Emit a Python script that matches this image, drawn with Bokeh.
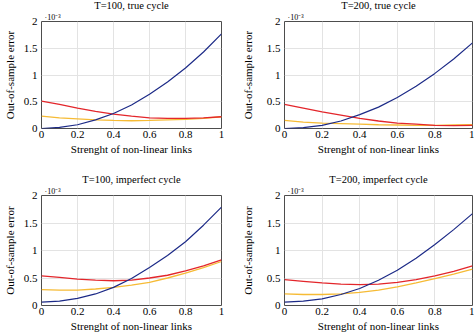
from bokeh.plotting import figure
from bokeh.layouts import column, row
from bokeh.models import Range1d, FixedTicker, CustomJSTickFormatter, Title
from bokeh.embed import file_html
from bokeh.resources import INLINE

x = [0.0, 0.1, 0.2, 0.3, 0.4, 0.5, 0.6, 0.7, 0.8, 0.9, 1.0]

# values in units of 1e-3
tl_blue = [0.0, 0.02, 0.07, 0.16, 0.28, 0.44, 0.64, 0.87, 1.13, 1.43, 1.77]
tl_red = [0.51, 0.45, 0.38, 0.32, 0.27, 0.23, 0.20, 0.19, 0.19, 0.20, 0.22]
tl_yellow = [0.23, 0.20, 0.18, 0.16, 0.15, 0.145, 0.15, 0.16, 0.17, 0.19, 0.22]

tr_blue = [0.0, 0.015, 0.06, 0.14, 0.26, 0.40, 0.58, 0.79, 1.03, 1.30, 1.60]
tr_red = [0.45, 0.38, 0.31, 0.25, 0.19, 0.14, 0.10, 0.08, 0.06, 0.055, 0.06]
tr_yellow = [0.15, 0.12, 0.10, 0.09, 0.08, 0.07, 0.065, 0.06, 0.06, 0.065, 0.07]

bl_blue = [0.06, 0.08, 0.13, 0.21, 0.33, 0.49, 0.69, 0.91, 1.16, 1.46, 1.79]
bl_red = [0.54, 0.51, 0.48, 0.46, 0.45, 0.46, 0.50, 0.55, 0.63, 0.72, 0.83]
bl_yellow = [0.29, 0.28, 0.28, 0.30, 0.33, 0.37, 0.42, 0.50, 0.59, 0.69, 0.80]

br_blue = [0.06, 0.08, 0.12, 0.20, 0.31, 0.46, 0.64, 0.86, 1.11, 1.38, 1.67]
br_red = [0.47, 0.44, 0.41, 0.39, 0.38, 0.39, 0.42, 0.47, 0.54, 0.62, 0.72]
br_yellow = [0.21, 0.20, 0.20, 0.21, 0.24, 0.28, 0.34, 0.41, 0.49, 0.57, 0.66]

titles = ["T=100, true cycle", "T=200, true cycle",
          "T=100, imperfect cycle", "T=200, imperfect cycle"]
x_ticks = [0, 0.2, 0.4, 0.6, 0.8, 1.0]
y_ticks = [0, 0.5, 1.0, 1.5, 2.0]
xlabel = "Strenght of non-linear links"
ylabel = "Out-of-sample error"
scale_label = "\u00b710\u207b\u00b3"

BLUE = "#1c2a87"
RED = "#e3262b"
YELLOW = "#f6bb35"
FONT = "Liberation Serif"

fmt = CustomJSTickFormatter(code="return String(Math.round(tick*10)/10)")


def make(title, blue, red, yellow, left, right, top, bottom, width, height, ylab_standoff):
    p = figure(width=width, height=height, output_backend="svg", toolbar_location=None,
               x_range=Range1d(0, 1), y_range=Range1d(0, 2),
               min_border_left=left, min_border_right=right,
               min_border_top=top, min_border_bottom=bottom)
    p.title.text = title
    p.title.align = "center"
    p.title.text_font = FONT
    p.title.text_font_size = "10.5px"
    p.title.text_font_style = "normal"
    p.title.text_color = "#000000"
    p.title.standoff = 0
    p.outline_line_color = "#4d4d4d"
    p.outline_line_width = 1
    for ax in (p.xaxis[0], p.yaxis[0]):
        ax.axis_line_color = None
        ax.major_tick_line_color = None
        ax.minor_tick_line_color = None
        ax.major_tick_out = 0
        ax.major_tick_in = 0
        ax.minor_tick_out = 0
        ax.minor_tick_in = 0
        ax.major_label_text_font = FONT
        ax.major_label_text_font_size = "11px"
        ax.major_label_text_color = "#000000"
        ax.axis_label_text_font = FONT
        ax.axis_label_text_font_size = "11px"
        ax.axis_label_text_font_style = "normal"
        ax.axis_label_text_color = "#000000"
        ax.formatter = fmt
    p.xaxis.ticker = FixedTicker(ticks=x_ticks)
    p.yaxis.ticker = FixedTicker(ticks=y_ticks)
    p.xaxis.axis_label = xlabel
    p.yaxis.axis_label = ylabel
    p.xaxis.major_label_standoff = 2
    p.yaxis.major_label_standoff = 4
    p.xaxis.axis_label_standoff = 2
    p.yaxis.axis_label_standoff = ylab_standoff
    p.xgrid.ticker = FixedTicker(ticks=x_ticks)
    p.ygrid.ticker = FixedTicker(ticks=y_ticks)
    p.xgrid.grid_line_color = "#e3e3e3"
    p.ygrid.grid_line_color = "#e3e3e3"
    p.line(x, yellow, line_color=YELLOW, line_width=1.3)
    p.line(x, red, line_color=RED, line_width=1.3)
    p.line(x, blue, line_color=BLUE, line_width=1.2)
    p.add_layout(Title(text=scale_label, align="left", offset=3, standoff=0,
                       text_font=FONT, text_font_size="8px", text_font_style="normal",
                       text_color="#000000"), "above")
    return p


# top row: slightly taller figures shifted up a little, frames stay where the reference has them
p1 = make(titles[0], tl_blue, tl_red, tl_yellow, 33, 16, 26, 38, 237, 171, 5)
p2 = make(titles[1], tr_blue, tr_red, tr_yellow, 47, 2, 26, 38, 237, 171, 10)
p3 = make(titles[2], bl_blue, bl_red, bl_yellow, 33, 16, 29, 38, 237, 177, 5)
p4 = make(titles[3], br_blue, br_red, br_yellow, 47, 2, 29, 38, 237, 177, 10)

top = row(p1, p2, margin=(-5, 0, 0, 0))
bottom = row(p3, p4)
layout = column(top, bottom)
open("out.html", "w").write(file_html(layout, INLINE))
